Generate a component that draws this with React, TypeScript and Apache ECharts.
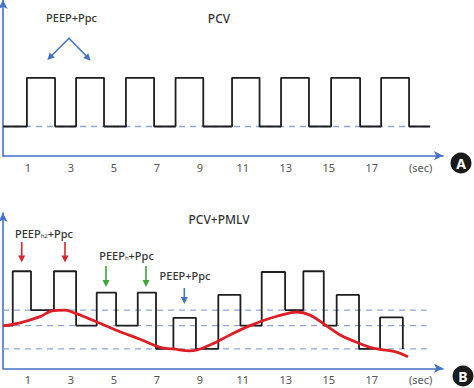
import React, { useEffect, useRef } from "react";
import * as echarts from "echarts";

// ---- data (time in sec, pressure in arbitrary units 0..40) ----
const tickValues = [1, 3, 5, 7, 9, 11, 13, 15, 17, 19.28];
const tickLabels = ["1", "3", "5", "7", "9", "11", "13", "15", "17", "(sec)"];

// Panel A: PCV square wave
const pcvStart = -0.16;
const pcvEnd = 19.72;
const pcvRise = [0.95, 3.24, 5.56, 7.87, 10.5, 12.78, 15.11, 17.44];
const pcvFall = [2.26, 4.54, 6.87, 9.16, 11.78, 14.08, 16.46, 18.74];
const pcvLow = 7.5;
const pcvHigh = 20;

// Panel B: PCV+PMLV stepped wave (edge times and level after each edge)
const pmlvEdgeTimes = [-0.16, 0.29, 1.14, 2.21, 3.24, 4.2, 5.1, 6.11, 6.96, 7.77, 8.82, 9.86, 10.89, 11.88, 12.97, 13.82, 14.77, 15.37, 16.41, 17.39, 18.45];
const pmlvLevels = [11, 25, 15, 25, 11, 19.5, 11, 19.5, 5, 13, 5, 18.9, 11, 24.8, 15, 25, 11, 18.9, 5, 13.1, 5];

// Panel B: PEEP levels (dashed) and slow PEEP curve (red)
const peepLevels = [5, 11, 15];
const peepLineEnd = 19.56;
const curveTimes = [-0.16, 0.63, 1.56, 2.12, 2.72, 3.19, 4.35, 5.28, 6.22, 7.15, 7.75, 8.54, 9.47, 10.4, 11.34, 12.27, 13.2, 13.52, 14.13, 14.83, 15.53, 16.22, 16.92, 17.39, 18.09, 18.69];
const curveValues = [10.9, 11.7, 13.3, 14.8, 15.0, 14.2, 11.6, 9.4, 7.5, 5.4, 5.0, 4.5, 6.0, 8.6, 11.0, 12.9, 14.3, 14.5, 13.7, 11.2, 8.6, 6.9, 5.4, 4.9, 4.3, 3.0];

const AXIS_BLUE = "#4472c4";
const DASH = "#8ea5cf";
const FONT = "Noto Sans";

function arrowHead(tipX: number, tipY: number, fromX: number, fromY: number, color: string, len = 7, half = 3.5) {
  const dx = tipX - fromX;
  const dy = tipY - fromY;
  const l = Math.hypot(dx, dy);
  const ux = dx / l, uy = dy / l;
  const bx = tipX - ux * len, by = tipY - uy * len;
  return {
    type: "polygon",
    shape: { points: [[tipX, tipY], [bx - uy * half, by + ux * half], [bx + uy * half, by - ux * half]] },
    style: { fill: color },
    silent: true,
  };
}

function downArrow(x: number, y1: number, y2: number, color: string) {
  return [
    { type: "line", shape: { x1: x, y1, x2: x, y2: y2 - 5 }, style: { stroke: color, lineWidth: 1.6 }, silent: true },
    arrowHead(x, y2, x, y1, color, 7, 3.5),
  ];
}

function badge(cx: number, cy: number, letter: string) {
  return [
    { type: "circle", shape: { cx, cy, r: 10.5 }, style: { fill: "#1b1b1b" }, silent: true },
    { type: "text", x: cx, y: cy + 0.5, style: { text: letter, fill: "#fff", font: `bold 14px ${FONT}`, align: "center", verticalAlign: "middle" }, silent: true },
  ];
}

export default function App() {
  const ref = useRef<HTMLDivElement>(null);

  useEffect(() => {
    if (!ref.current) return;
    const chart = echarts.init(ref.current, null, { renderer: "svg" });

    const pcvData: number[][] = [[pcvStart, pcvLow]];
    pcvRise.forEach((r, i) => {
      pcvData.push([r, pcvLow], [r, pcvHigh], [pcvFall[i], pcvHigh], [pcvFall[i], pcvLow]);
    });
    pcvData.push([pcvEnd, pcvLow]);

    const pmlvData: number[][] = [];
    pmlvEdgeTimes.forEach((t, i) => {
      if (i > 0) pmlvData.push([t, pmlvLevels[i - 1]]);
      pmlvData.push([t, pmlvLevels[i]]);
    });

    const curveData = curveTimes.map((t, i) => [t, curveValues[i]]);

    const labelFmt = (v: number) => {
      const i = tickValues.findIndex((t) => Math.abs(t - v) < 1e-6);
      return i >= 0 ? tickLabels[i] : "";
    };

    const xAxisBase = (gridIndex: number) => ({
      type: "value",
      gridIndex,
      min: -0.163,
      max: 20.32,
      axisLine: { show: true, onZero: false, symbol: ["none", "arrow"], symbolSize: [7, 9], lineStyle: { color: AXIS_BLUE, width: 1.6 } },
      axisTick: { show: false },
      splitLine: { show: false },
      axisLabel: { customValues: tickValues, formatter: labelFmt, color: "#555", fontSize: 11, fontFamily: FONT, margin: 6 },
    });
    const yAxisBase = (gridIndex: number) => ({
      type: "value",
      gridIndex,
      min: 0,
      max: 40,
      axisLine: { show: true, onZero: false, symbol: ["none", "arrow"], symbolSize: [7, 9], lineStyle: { color: AXIS_BLUE, width: 1.6 } },
      axisTick: { show: false },
      axisLabel: { show: false },
      splitLine: { show: false },
    });

    const dashedLine = (level: number, end: number, axis: number) => ({
      type: "line",
      xAxisIndex: axis,
      yAxisIndex: axis,
      data: [[-0.16, level], [end, level]],
      symbol: "none",
      z: 1,
      lineStyle: { color: DASH, width: 1.3, type: [6, 5] },
    });

    const graphics: any[] = [
      { type: "text", x: 219, y: 18, style: { text: "PCV", font: `500 12px ${FONT}`, fill: "#333", align: "center", verticalAlign: "middle" } },
      { type: "text", x: 71.5, y: 17, style: { text: "PEEP+Ppc", font: `500 11px ${FONT}`, fill: "#333", align: "center", verticalAlign: "middle" } },
      { type: "polyline", shape: { points: [[49, 58.3], [69, 38.3], [89, 58.8]] }, style: { stroke: AXIS_BLUE, lineWidth: 1.6, fill: null } },
      arrowHead(47.3, 60, 69, 38.3, AXIS_BLUE, 7, 3.5),
      arrowHead(90.7, 60.7, 69, 38.3, AXIS_BLUE, 7, 3.5),
      ...badge(461, 163, "A"),
      { type: "text", x: 219, y: 219, style: { text: "PCV+PMLV", font: `500 12px ${FONT}`, fill: "#333", align: "center", verticalAlign: "middle" } },
      {
        type: "text", x: 44, y: 232,
        style: {
          text: "{a|PEEP}{s|h2}{a|+Ppc}", align: "center", verticalAlign: "middle",
          rich: {
            a: { fontSize: 11, fontWeight: 500, fontFamily: FONT, fill: "#333", lineHeight: 14, verticalAlign: "bottom" },
            s: { fontSize: 6, fontFamily: FONT, fill: "#333", lineHeight: 14, verticalAlign: "bottom" },
          },
        },
      },
      ...downArrow(21.7, 242, 262.5, "#d9232e"),
      ...downArrow(65, 242, 262.5, "#d9232e"),
      {
        type: "text", x: 126.5, y: 254,
        style: {
          text: "{a|PEEP}{s|h}{a|+Ppc}", align: "center", verticalAlign: "middle",
          rich: {
            a: { fontSize: 11, fontWeight: 500, fontFamily: FONT, fill: "#333", lineHeight: 14, verticalAlign: "bottom" },
            s: { fontSize: 6, fontFamily: FONT, fill: "#333", lineHeight: 14, verticalAlign: "bottom" },
          },
        },
      },
      ...downArrow(106, 266, 287, "#3fa33f"),
      ...downArrow(146, 266, 287, "#3fa33f"),
      { type: "text", x: 185, y: 275, style: { text: "PEEP+Ppc", font: `500 11px ${FONT}`, fill: "#333", align: "center", verticalAlign: "middle" } },
      ...downArrow(184.3, 288, 304, AXIS_BLUE),
      ...badge(463, 376, "B"),
    ];

    chart.setOption({
      animation: false,
      backgroundColor: "#fff",
      grid: [
        { left: 3, top: 0, width: 440, height: 155.7 },
        { left: 3, top: 213, width: 440, height: 155.3 },
      ],
      xAxis: [xAxisBase(0), xAxisBase(1)],
      yAxis: [yAxisBase(0), yAxisBase(1)],
      series: [
        dashedLine(pcvLow, pcvEnd, 0),
        ...peepLevels.map((l) => dashedLine(l, peepLineEnd, 1)),
        {
          type: "line", xAxisIndex: 0, yAxisIndex: 0, data: pcvData, symbol: "none", z: 3,
          lineStyle: { color: "#1e1e1e", width: 1.8 },
        },
        {
          type: "line", xAxisIndex: 1, yAxisIndex: 1, data: pmlvData, symbol: "none", z: 3,
          lineStyle: { color: "#1e1e1e", width: 1.8 },
        },
        {
          type: "line", xAxisIndex: 1, yAxisIndex: 1, data: curveData, symbol: "none", smooth: 0.4, z: 4,
          lineStyle: { color: "#dc1f26", width: 2.8 },
        },
      ],
      graphic: graphics,
    });

    return () => chart.dispose();
  }, []);

  return <div ref={ref} style={{ position: "absolute", left: 0, top: 0, width: 474, height: 388 }} />;
}
